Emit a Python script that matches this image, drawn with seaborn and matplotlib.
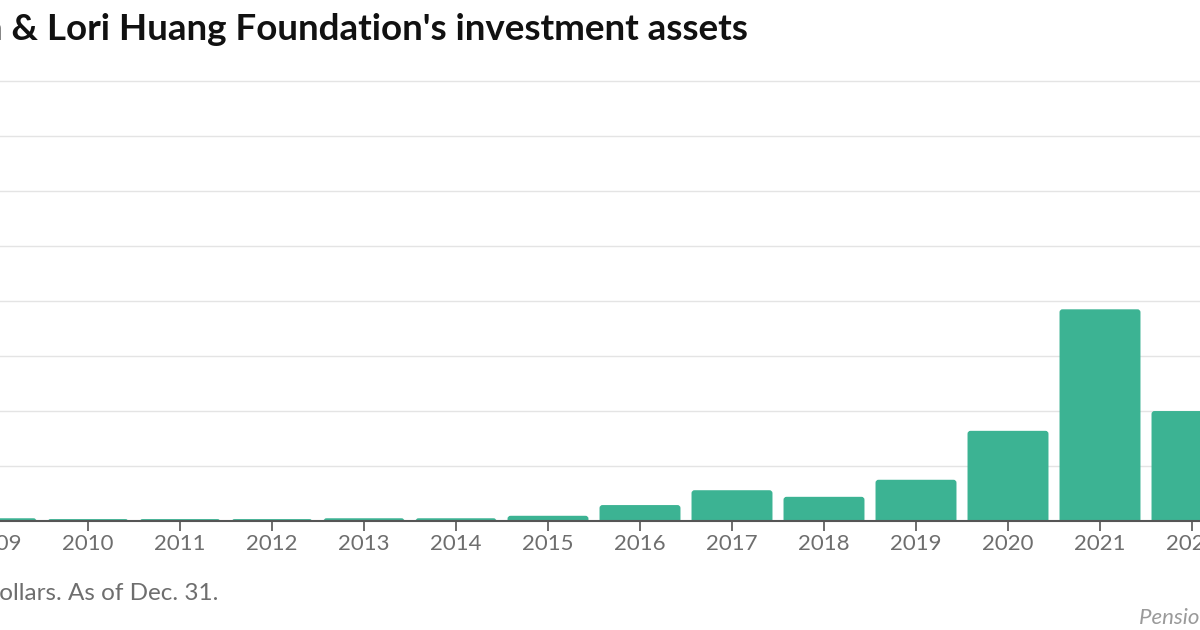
import matplotlib
matplotlib.use("Agg")
import matplotlib.pyplot as plt
from matplotlib.patches import FancyBboxPatch
import seaborn as sns
import pandas as pd

# Data (in grid units; y labels are cropped out)
years = ["2009", "2010", "2011", "2012", "2013", "2014", "2015",
         "2016", "2017", "2018", "2019", "2020", "2021", "2022"]
assets = [0.05, 0.035, 0.035, 0.035, 0.05, 0.05, 0.095,
          0.29, 0.56, 0.44, 0.75, 1.64, 3.85, 2.0]

title = "Jensen & Lori Huang Foundation's investment assets"
note = "Figures in U.S. dollars. As of Dec. 31."
source = "Pensions & Investments"

bar_color = "#3cb393"
df = pd.DataFrame({"year": years, "assets": assets})

sns.set_style("white")
plt.rcParams['font.family'] = ['Lato', 'DejaVu Sans']

fig = plt.figure(figsize=(12, 6.3), dpi=100)
# axes run a little past both figure edges, like the cropped original
ax = fig.add_axes([-10 / 1200, 0.173, 1220 / 1200, 0.70])

sns.barplot(data=df, x="year", y="assets", color=bar_color, width=0.88,
            saturation=1, ax=ax, zorder=3)

ax.set_xlim(-6 / 92, 1214 / 92)
ax.set_ylim(0, 8.02)

# swap plain bars for ones with slightly rounded tops
r = 3 / 92
for p in list(ax.patches):
    x, w, h = p.get_x(), p.get_width(), p.get_height()
    p.remove()
    ax.add_patch(FancyBboxPatch((x, -0.3), w, h + 0.3,
                                boxstyle=f"round,pad=0,rounding_size={r}",
                                mutation_aspect=92 / 55,
                                facecolor=bar_color, edgecolor="none", zorder=3))

ax.set_yticks(range(0, 9))
ax.yaxis.grid(True, color="#e4e4e4", linewidth=1, zorder=0)
ax.set_yticklabels([])
ax.tick_params(axis="y", length=0, left=False)
ax.tick_params(axis="x", bottom=True, length=7.5, width=1.2, color="#555555",
               labelsize=16, labelcolor="#6e6e6e", pad=1.5)
for s in ["top", "right", "left"]:
    ax.spines[s].set_visible(False)
ax.spines["bottom"].set_color("#555555")
ax.spines["bottom"].set_linewidth(1.5)
ax.spines["bottom"].set_zorder(4)
ax.set_xlabel("")
ax.set_ylabel("")

fig.text(748 / 1200, 1 - 40 / 630, title, ha="right", va="baseline",
         fontsize=26.5, fontweight="bold", color="#111111")
fig.text(218 / 1200, 1 - 600 / 630, note, ha="right", va="baseline",
         fontsize=17.5, color="#6e6e6e")
fig.text(1139 / 1200, 1 - 624 / 630, source, ha="left", va="baseline",
         fontsize=16, style="italic", color="#9a9a9a")

fig.savefig("out.png", dpi=100)
